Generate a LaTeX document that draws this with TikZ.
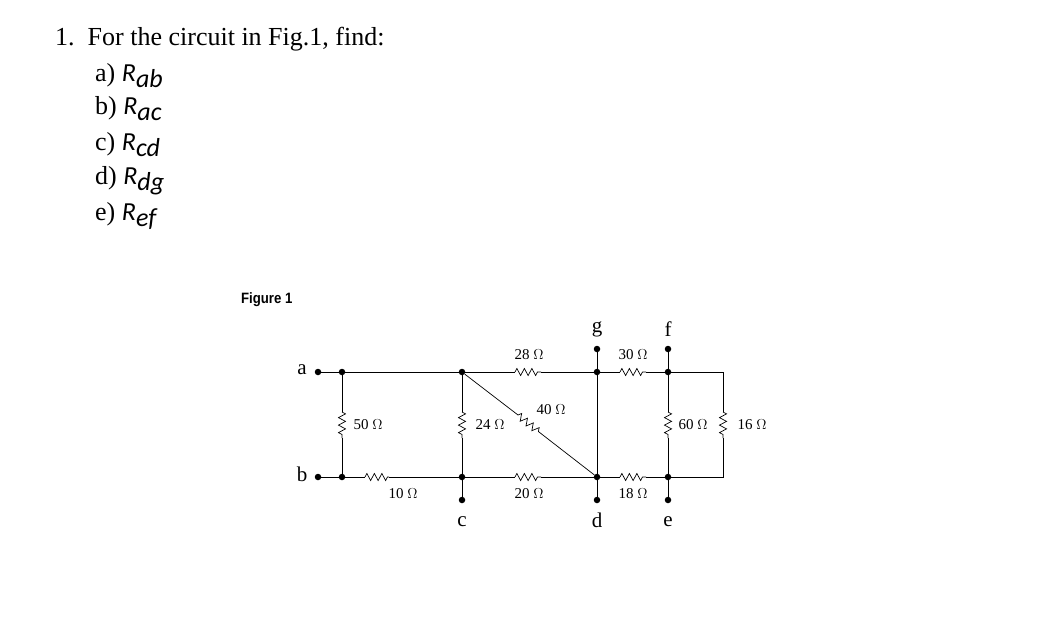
\documentclass[tikz,border=0pt]{standalone}
\usepackage{fontspec}
\setmainfont{Liberation Serif}
\newfontfamily\figfont{Liberation Sans}
\newfontfamily\rfont{Carlito}
\usetikzlibrary{decorations.pathmorphing}
\newcommand{\rsym}[1]{{\rfont\itshape R\raisebox{-0.25em}{#1}}}
\begin{document}
\begin{tikzpicture}[x=1pt,y=-1pt,
  wire/.style={line width=0.7pt},
  res/.style={line width=0.7pt,decorate,decoration={zigzag,segment length=7.5pt,amplitude=3.5pt}},
  dot/.style={circle,fill,inner sep=0pt,minimum size=6.5pt},
  lbl/.style={font=\fontsize{15}{15}\selectfont,inner sep=1pt},
  term/.style={font=\fontsize{21}{21}\selectfont,inner sep=1pt},
  q/.style={font=\fontsize{26}{26}\selectfont,anchor=base west,inner sep=0pt}]
\useasboundingbox (0,0) rectangle (1043,640);
% question text
\node[q] (t0) at (55,45) {1.\ \ For the circuit in Fig.1, find:};
\node[q] (t1) at (95,81) {a)\ \rsym{ab}};
\node[q] (t2) at (95,114) {b)\ \rsym{ac}};
\node[q] (t3) at (95,150) {c)\ \rsym{cd}};
\node[q] (t4) at (95,184) {d)\ \rsym{dg}};
\node[q] (t5) at (95,220) {e)\ \rsym{ef}};
\node[font=\figfont\bfseries\fontsize{15}{15}\selectfont,anchor=west,xscale=0.88] (fig) at (238,300) {Figure 1};
% nodes
\node[dot] (a) at (318,372) {}; \node[dot] (a1) at (342,372) {};
\node[dot] (b) at (318,477) {}; \node[dot] (b1) at (342,477) {};
\node[dot] (ct) at (462,372) {}; \node[dot] (cb) at (462,477) {}; \node[dot] (c) at (462,500) {};
\node[dot] (gt) at (597,372) {}; \node[dot] (g) at (597,349) {};
\node[dot] (db) at (597,477) {}; \node[dot] (d) at (597,500) {};
\node[dot] (ft) at (668,372) {}; \node[dot] (f) at (668,349) {};
\node[dot] (eb) at (668,477) {}; \node[dot] (e) at (668,500) {};
\coordinate (rt) at (723,372); \coordinate (rb) at (723,477);
% terminal labels
\node[term] at (302,370) {a};
\node[term] at (302,474) {b};
\node[term] at (462,522) {c};
\node[term] at (597,520) {d};
\node[term] at (668,522) {e};
\node[term] at (597,329) {g};
\node[term] at (668,329) {f};
% wires
\draw[wire] (a) -- (a1) -- (ct);
\draw[wire] (b) -- (b1) -- (365,477); \draw[res] (365,477) -- (389,477); \draw[wire] (389,477) -- (cb);
\draw[wire] (a1) -- (342,412); \draw[res] (342,412) -- (342,438); \draw[wire] (342,438) -- (b1);
\draw[wire] (ct) -- (462,412); \draw[res] (462,412) -- (462,438); \draw[wire] (462,438) -- (cb);
\draw[wire] (cb) -- (c);
\draw[wire] (ct) -- (515,372); \draw[res] (515,372) -- (541,372); \draw[wire] (541,372) -- (gt);
\draw[wire] (cb) -- (515,477); \draw[res] (515,477) -- (541,477); \draw[wire] (541,477) -- (db);
\draw[wire] (ct) -- (518,415); \draw[res] (518,415) -- (539,432); \draw[wire] (539,432) -- (db);
\draw[wire] (g) -- (gt) -- (db) -- (d);
\draw[wire] (gt) -- (620,372); \draw[res] (620,372) -- (646,372); \draw[wire] (646,372) -- (ft);
\draw[wire] (db) -- (620,477); \draw[res] (620,477) -- (646,477); \draw[wire] (646,477) -- (eb);
\draw[wire] (f) -- (ft) -- (668,412); \draw[res] (668,412) -- (668,438); \draw[wire] (668,438) -- (eb) -- (e);
\draw[wire] (ft) -- (rt) -- (723,412); \draw[res] (723,412) -- (723,438); \draw[wire] (723,438) -- (rb) -- (eb);
% resistor labels
\node[lbl] at (529,355) {28 $\Omega$};
\node[lbl] at (633,355) {30 $\Omega$};
\node[lbl] at (368,425) {50 $\Omega$};
\node[lbl] at (490,425) {24 $\Omega$};
\node[lbl] at (551,410) {40 $\Omega$};
\node[lbl] at (693,425) {60 $\Omega$};
\node[lbl] at (752,425) {16 $\Omega$};
\node[lbl] at (403,494) {10 $\Omega$};
\node[lbl] at (529,494) {20 $\Omega$};
\node[lbl] at (633,494) {18 $\Omega$};
\end{tikzpicture}
\end{document}
